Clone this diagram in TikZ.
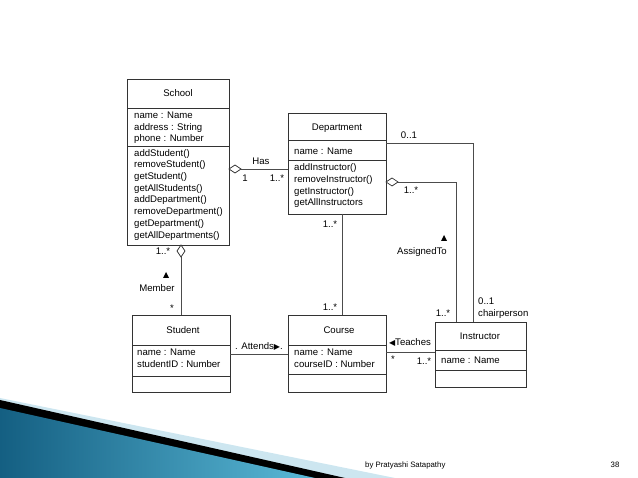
\documentclass[tikz,border=0pt]{standalone}
\usepackage{fontspec}
\setmainfont{Liberation Sans}
\newfontfamily\dejavu{DejaVu Sans}
\definecolor{tealdk}{RGB}{20,95,130}
\definecolor{teallt}{RGB}{90,185,215}
\definecolor{palebl}{RGB}{205,230,240}
\begin{document}
\begin{tikzpicture}[x=1pt,y=-1pt,
  box/.style={draw=black!80,line width=0.7pt},
  ln/.style={draw=black!70,line width=0.7pt},
  tx/.style={font=\fontsize{9.6}{11.7}\selectfont,inner sep=0pt},
  dia/.style={draw=black!80,fill=white,line width=0.7pt}]
\useasboundingbox (0,0) rectangle (638,478);
% footer decoration
\fill[palebl] (0,398) -- (395,478) -- (0,478) -- cycle;
\fill[black] (0,400) -- (345,478) -- (0,478) -- cycle;
\shade[left color=tealdk, right color=teallt] (0,408) -- (315,478) -- (0,478) -- cycle;
\node[font=\fontsize{7.8}{9}\selectfont,anchor=west,inner sep=0pt] (foot) at (365,465) {by Pratyashi Satapathy};
\node[font=\fontsize{7.8}{9}\selectfont,inner sep=0pt] (pg) at (615,465) {38};
% classes
\draw[box] (127,79) rectangle (229,245); \draw[box] (127,108)--(229,108); \draw[box] (127,146)--(229,146);
\node[tx] (school) at (178,93) {School};
\node[tx,anchor=north west,align=left] (schatt) at (134,111.5) {name : Name\\address : String\\phone : Number};
\node[tx,anchor=north west,align=left] (schops) at (134,149) {addStudent()\\removeStudent()\\getStudent()\\getAllStudents()\\addDepartment()\\removeDepartment()\\getDepartment()\\getAllDepartments()};
\draw[box] (288,113) rectangle (386,214); \draw[box] (288,140)--(386,140); \draw[box] (288,160)--(386,160);
\node[tx] (dept) at (337,128) {Department};
\node[tx,anchor=west] (deptatt) at (294,151) {name : Name};
\node[tx,anchor=north west,align=left] (deptops) at (294,163.5) {addInstructor()\\removeInstructor()\\getInstructor()\\getAllInstructors};
\draw[box] (132,315) rectangle (230,392); \draw[box] (132,345)--(230,345); \draw[box] (132,376)--(230,376);
\node[tx] (student) at (183,330) {Student};
\node[tx,anchor=north west,align=left] (statt) at (137,349) {name : Name\\studentID : Number};
\draw[box] (288,315) rectangle (386,392); \draw[box] (288,345)--(386,345); \draw[box] (288,374)--(386,374);
\node[tx] (course) at (339,330) {Course};
\node[tx,anchor=north west,align=left] (catt) at (294,349) {name : Name\\courseID : Number};
\draw[box] (435,322) rectangle (526,387); \draw[box] (435,350)--(526,350); \draw[box] (435,370)--(526,370);
\node[tx] (instr) at (480,336) {Instructor};
\node[tx,anchor=west] (iatt) at (441,360) {name : Name};
% Has
\coordinate (h1) at (241,169); \coordinate (h2) at (288,169);
\draw[ln] (h1)--(h2);
\draw[dia] (229,169)--(235,165)--(241,169)--(235,173)--cycle;
\node[tx] (has) at (261,161) {Has};
\node[tx] (has1) at (245,178) {1};
\node[tx] (has2) at (277,178) {1..*};
% Member
\coordinate (m1) at (181,257); \coordinate (m2) at (181,315);
\draw[ln] (m1)--(m2);
\draw[dia] (181,245)--(185,251)--(181,257)--(177,251)--cycle;
\node[tx] (m1l) at (163,251) {1..*};
\fill (163,278)--(166,272)--(169,278)--cycle;
\node[tx] (member) at (157,288) {Member};
\node[tx] (mstar) at (172,308) {*};
% Dept-Course
\coordinate (dc1) at (342,214); \coordinate (dc2) at (342,315);
\draw[ln] (dc1)--(dc2);
\node[tx] (dcl1) at (330,224) {1..*};
\node[tx] (dcl2) at (330,307) {1..*};
% chairperson
\coordinate (c1) at (386,143); \coordinate (c2) at (473,143); \coordinate (c3) at (473,322);
\draw[ln] (c1)--(c2)--(c3);
\node[tx] (c01) at (409,135) {0..1};
\node[tx,anchor=west,align=left] (chair) at (478,308) {0..1\\chairperson};
% AssignedTo
\coordinate (a1) at (398,182); \coordinate (a2) at (456,182); \coordinate (a3) at (456,322);
\draw[ln] (a1)--(a2)--(a3);
\draw[dia] (386,182)--(392,178)--(398,182)--(392,186)--cycle;
\node[tx] (al1) at (411,190) {1..*};
\fill (441,241)--(444,235)--(447,241)--cycle;
\node[tx] (assigned) at (422,252) {AssignedTo};
\node[tx] (al2) at (443,313) {1..*};
% Attends
\draw[ln] (230,354)--(288,354);
\node[tx] (att) at (259,347) {. Attends{\dejavu\fontsize{8}{8}\selectfont ▶}.};
% Teaches
\draw[ln] (386,352)--(435,352);
\node[tx] (teach) at (410,343) {{\dejavu\fontsize{8}{8}\selectfont ◀}Teaches};
\node[tx] (tstar) at (393,359) {*};
\node[tx] (tl) at (424,361) {1..*};
\end{tikzpicture}
\end{document}
